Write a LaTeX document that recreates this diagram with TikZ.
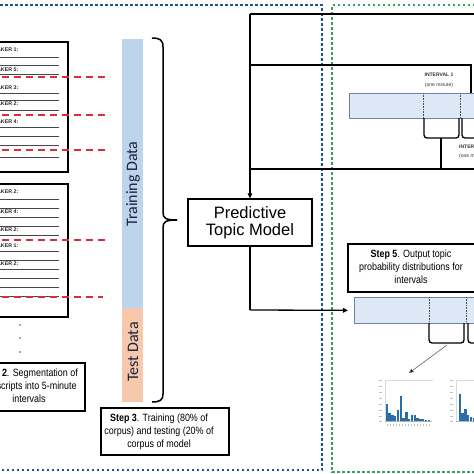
\documentclass[tikz,border=0pt]{standalone}
\usepackage{fontspec}
\setmainfont{Liberation Sans}
\newfontfamily\narrowf{Liberation Sans}[FakeStretch=0.85]
\newfontfamily\carl{Carlito}
\usetikzlibrary{arrows.meta}
\definecolor{dotblue}{RGB}{30,85,145}
\definecolor{dotgreen}{RGB}{55,160,95}
\definecolor{redd}{RGB}{215,45,60}
\definecolor{trainblue}{RGB}{189,213,236}
\definecolor{testorange}{RGB}{246,200,172}
\definecolor{intfill}{RGB}{220,232,246}
\definecolor{intedge}{RGB}{110,130,165}
\definecolor{barblue}{RGB}{40,110,170}
\definecolor{txtline}{RGB}{70,70,70}
\definecolor{navytxt}{RGB}{25,35,60}
\tikzset{
  tbox/.style={draw=black, line width=1.6pt},
  stepbox/.style={draw=black, line width=1.5pt, fill=white},
  gline/.style={draw=txtline, line width=0.9pt},
  reddash/.style={draw=redd, line width=2pt, dash pattern=on 7pt off 5pt},
  bluedot/.style={draw=dotblue, line width=2.5pt, dash pattern=on 2.5pt off 2.5pt},
  greendot/.style={draw=dotgreen, line width=2.5pt, dash pattern=on 2.5pt off 2.5pt},
  conn/.style={draw=black, line width=1.3pt},
  tip/.style={-{Triangle[length=5pt,width=4.5pt]}},
  spk/.style={anchor=east, inner sep=0pt, text=black!85, font=\bfseries\fontsize{5.3}{6}\selectfont},
  steptxt/.style={align=center, inner sep=0pt, font=\narrowf\fontsize{10.5}{13}\selectfont},
  intbox/.style={draw=intedge, fill=intfill, line width=0.7pt, inner sep=0pt},
  intdot/.style={draw=black!70, line width=0.6pt, dash pattern=on 0.8pt off 0.8pt},
  inttxt/.style={inner sep=0pt, text=black!80, font=\fontsize{5}{6}\selectfont},
  bar/.style={fill=barblue, draw=none},
  faint/.style={draw=black!15, line width=0.4pt}
}
\begin{document}
\begin{tikzpicture}[x=1pt,y=-1pt]
\useasboundingbox (0,0) rectangle (474,474);
\fill[white] (0,0) rectangle (474,474);

% dotted frames
\draw[bluedot] (-10,5) -- (322,5) -- (322,470) -- (-10,470);
\draw[greendot] (485,5) -- (332,5) -- (332,472) -- (485,472);

% transcript box 1
\draw[tbox] (-10,42) rectangle (68,172);
\foreach \y in {57,65,74,93,100,110,127,136,145,157}
  \draw[gline] (-10,\y) -- (59,\y);
\node[spk] (s11) at (18.5,50) {SPEAKER 1:};
\node[spk] (s12) at (18.5,70) {SPEAKER 5:};
\node[spk] (s13) at (18.5,88) {SPEAKER 3:};
\node[spk] (s14) at (18.5,104) {SPEAKER 2:};
\node[spk] (s15) at (18.5,122) {SPEAKER 4:};
\draw[reddash] (-10,77) -- (110,77);
\draw[reddash] (-10,115) -- (110,115);
\draw[reddash] (-10,150) -- (110,150);

% transcript box 2
\draw[tbox] (-10,184) rectangle (68,317);
\foreach \y in {199,208,217,226,235,251,260,269,278,287,296}
  \draw[gline] (-10,\y) -- (59,\y);
\node[spk] (s21) at (18.5,192) {SPEAKER 2:};
\node[spk] (s22) at (18.5,212) {SPEAKER 4:};
\node[spk] (s23) at (18.5,230) {SPEAKER 2:};
\node[spk] (s24) at (18.5,246) {SPEAKER 1:};
\node[spk] (s25) at (18.5,264) {SPEAKER 2:};
\draw[reddash] (-10,240) -- (105,240);
\draw[reddash] (-10,297) -- (103,297);

% vertical dots
\foreach \y in {325,338,352} \fill[black!70] (20,\y) circle (0.9);

% step 2 box
\draw[stepbox] (-10,363) rectangle (85,411);
\node[steptxt] (st2) at (29,386) {\textbf{Step 2}. Segmentation of\\transcripts into 5-minute\\intervals};

% training / test bar
\fill[trainblue] (122,39) rectangle (143,308);
\fill[testorange] (122,308) rectangle (143,402);
\node[rotate=90, text=navytxt, font=\carl\fontsize{16}{16}\selectfont] (train) at (133,184) {Training Data};
\node[rotate=90, text=navytxt, font=\carl\fontsize{16}{16}\selectfont] (test) at (133,352) {Test Data};

% brace
\draw[black, line width=1.5pt] (152,38) .. controls (160,38) and (163,40) .. (163,47) -- (163,212) .. controls (163,218) and (165,220) .. (177,220);
\draw[black, line width=1.5pt] (177,220) .. controls (165,220) and (163,222) .. (163,228) -- (163,394) .. controls (163,400) and (160,402) .. (152,402);

% step 3 box
\draw[stepbox] (101,408) rectangle (229,455);
\node[steptxt] (st3) at (159,432) {\textbf{Step 3}. Training (80\% of\\corpus) and testing (20\% of\\corpus of model};

% predictive topic model
\node[draw=black, line width=1.2pt, fill=white, minimum width=124pt, minimum height=47pt, inner sep=0pt, align=center, font=\fontsize{16.5}{17.5}\selectfont] (ptm) at (250,222.5) {Predictive\\Topic Model};

% interval box 1
\node[intbox, anchor=north west, minimum width=140pt, minimum height=25pt] (int1) at (349,93) {};
\draw[intdot] (423,93) -- (423,118);
\draw[intdot] (460,93) -- (460,118);
\node[inttxt] (il1) at (439,75) {\textbf{INTERVAL 1}};
\node[inttxt] (il1b) at (439,85) {(one minute)};
\node[inttxt, anchor=west] (il2) at (459,147) {\textbf{INTERVAL 2}};
\node[inttxt, anchor=west] (il2b) at (459,156) {(one minute)};

% connectors top
\coordinate (ctop) at (250,14);
\coordinate (ctopr) at (480,14);
\coordinate (c65) at (250,65);
\coordinate (c169) at (250,169);
\coordinate (c169r) at (480,169);
\coordinate (i1top) at (471,93);
\draw[conn] (ctopr) -- (ctop);
\draw[conn, tip] (ctop) -- (ptm.north);
\draw[conn] (c65) -| (i1top);
\draw[conn] (c169) -- (c169r);
\draw[conn, rounded corners=3pt] (424,118) -- (424,138) -- (459,138) -- (459,118);
\draw[conn, rounded corners=3pt] (462,118) -- (462,138) -- (480,138);
\coordinate (b1mid) at (441,138);
\coordinate (b1low) at (441,169);
\draw[conn] (b1mid) -- (b1low);

% step 5
\node[stepbox, minimum width=129pt, minimum height=48pt, anchor=north west, inner sep=0pt] (st5box) at (347,243) {};
\node[steptxt] (st5) at (411,267) {\textbf{Step 5}. Output topic\\probability distributions for\\intervals};

% interval box 2
\node[intbox, anchor=north west, minimum width=136pt, minimum height=26pt] (int2) at (354,297) {};
\draw[intdot] (429,297) -- (429,323);
\draw[intdot] (466,297) -- (466,323);
\coordinate (cturn) at (250,310);
\draw[conn] (ptm.south) -- (cturn);
\draw[conn, tip, shorten >=6pt] (cturn) -- (int2.west);
\draw[conn, rounded corners=3pt] (429,323) -- (429,343) -- (464,343) -- (464,323);
\draw[conn, rounded corners=3pt] (468,323) -- (468,343) -- (480,343);
\coordinate (b2mid) at (447,345);
\coordinate (ch1top) at (409,373);
\draw[black!60, line width=0.6pt, -{Triangle[length=4.5pt,width=4pt,fill=black]}] (b2mid) -- (ch1top);

% chart 1
\draw[faint] (385,380) -- (433,380);
\draw[faint] (385,380) -- (385,421);
\foreach \y in {380,386,392,398,404,410,416,421}
  \draw[black!25, line width=0.5pt] (379,\y) -- (382,\y);
\foreach \x in {387,390,393,396,399,402,405,408,411,414,417,420,423,426,429}
  \draw[black!25, line width=0.5pt] (\x,424) -- (\x,426);
\foreach \h [count=\i from 0] in {17,8,6,5,11,25,3,9,2,6,6,3,2,2,1,1}
  \fill[bar] (385.5+\i*2.8,421) rectangle (385.5+\i*2.8+2.5,421-\h);
\draw[black!30, line width=0.4pt] (385,421) -- (432,421);

% chart 2
\draw[faint] (456,380) -- (480,380);
\draw[faint] (456,380) -- (456,421);
\foreach \y in {380,386,392,398,404,410,416,421}
  \draw[black!25, line width=0.5pt] (450,\y) -- (453,\y);
\foreach \h [count=\i from 0] in {27,8,12,6,4,3,2}
  \fill[bar] (458.5+\i*2.8,421) rectangle (458.5+\i*2.8+2.5,421-\h);
\draw[black!30, line width=0.4pt] (456,421) -- (480,421);
\end{tikzpicture}
\end{document}
